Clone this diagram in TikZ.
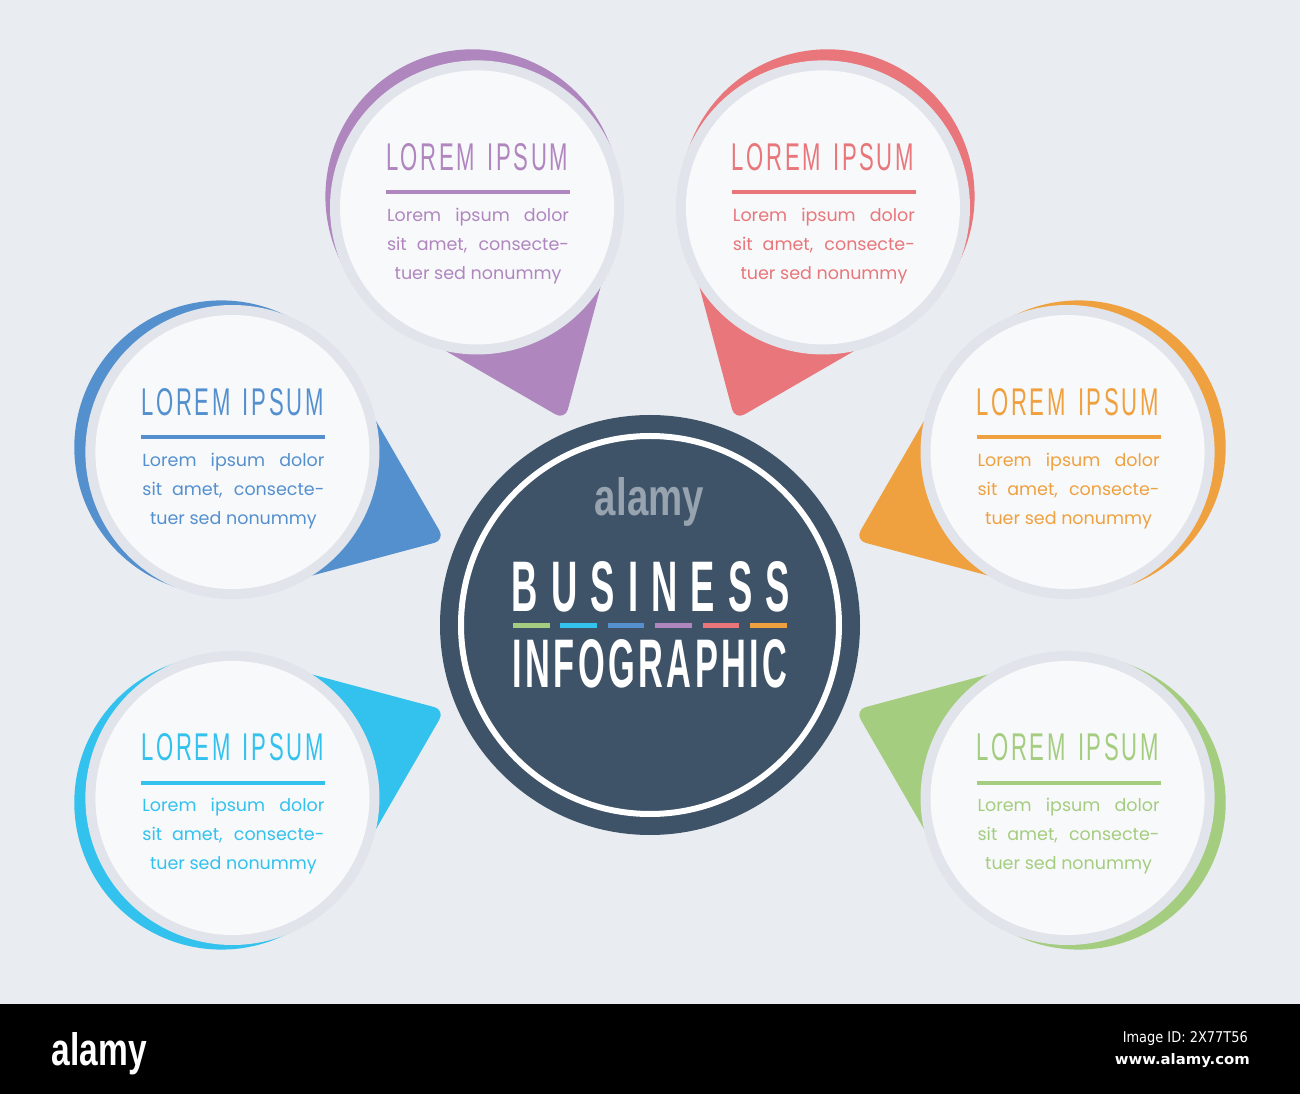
\documentclass[tikz,border=0pt]{standalone}
\usepackage{graphicx}
\usepackage{fontspec}
\setmainfont{Poppins}
\newfontfamily\headfont{Liberation Sans}
\newfontfamily\markfont{DejaVu Sans}
\usetikzlibrary{positioning}

\definecolor{bgray}{HTML}{E9ECF1}
\definecolor{ringgray}{HTML}{E1E4EA}
\definecolor{softwhite}{HTML}{F8F9FB}
\definecolor{slate}{HTML}{3E5368}
\definecolor{wmgray}{HTML}{97A3AF}
\definecolor{cOrange}{HTML}{EFA140}
\definecolor{cRed}{HTML}{E8767A}
\definecolor{cPurple}{HTML}{B086BF}
\definecolor{cBlue}{HTML}{5590CE}
\definecolor{cCyan}{HTML}{33C1EE}
\definecolor{cGreen}{HTML}{A5CD80}

\newcommand{\fitbox}[3]{\resizebox{#1}{#2}{#3}}
\newcommand{\lettergap}{\kern.36em}
\newcommand{\smallgap}{\kern.12em}
\newcommand{\tinygap}{\kern.1em}

\tikzset{
  headline/.style={anchor=base, inner sep=0pt, font=\headfont\bfseries},
  bubblehead/.style={anchor=base, inner sep=0pt, font=\headfont},
  bodyline/.style={anchor=base, inner sep=0pt, font=\fontsize{17.5}{20}\selectfont},
}

\begin{document}
\begin{tikzpicture}[x=1pt, y=1pt]

\useasboundingbox (-650,-469) rectangle (650,625);
\fill[bgray] (-650,-379) rectangle (650,625);
\fill[black] (-650,-469) rectangle (650,-379);

\foreach \a/\col/\n in {22.5/cOrange/or, 67.5/cRed/re, 112.5/cPurple/pu, 157.5/cBlue/bl, 202.5/cCyan/cy, 337.5/cGreen/gr}{
  \begin{scope}[shift={(\a:452)}]
    \begin{scope}[rotate=\a]
      \fill[\col] (12,0) circle[radius=147];
      \fill[\col, rounded corners=11pt] (-76,118) -- (-230,0) -- (-76,-118) -- cycle;
      \fill[ringgray] (0,0) circle[radius=147];
      \fill[softwhite] (0,0) circle[radius=137];
    \end{scope}
    \node[bubblehead, text=\col] (\n-head) at (0,37) {\fitbox{182pt}{27pt}{L\smallgap O\smallgap R\smallgap E\smallgap M\ \ I\smallgap P\smallgap S\smallgap U\smallgap M}};
    \draw[\col, line width=4pt] (-91,15) -- (93,15);
    \node[bodyline, text=\col] (\n-l1) at (1,-14) {\makebox[182pt][s]{Lorem ipsum dolor}};
    \node[bodyline, text=\col] (\n-l2) at (1,-43) {\makebox[182pt][s]{sit amet, consecte-}};
    \node[bodyline, text=\col] (\n-l3) at (1,-72) {tuer sed nonummy};
  \end{scope}
}

\fill[slate] (0,0) circle[radius=210];
\draw[white, line width=6pt] (0,0) circle[radius=189];
\node[headline, text=wmgray] (wm) at (-0.5,109) {\fitbox{109pt}{38pt}{alamy}};
\node[headline, text=white] (biz) at (1,13) {\fitbox{278pt}{50pt}{B\lettergap U\lettergap S\lettergap I\lettergap N\lettergap E\lettergap S\lettergap S}};
\node[headline, text=white] (info) at (0,-63) {\fitbox{275pt}{48pt}{I\tinygap N\tinygap F\tinygap O\tinygap G\tinygap R\tinygap A\tinygap P\tinygap H\tinygap I\tinygap C}};
\foreach \c [count=\i from 0] in {cGreen, cCyan, cBlue, cPurple, cRed, cOrange}
  \fill[\c] (-137+47.4*\i,-3.5) rectangle ++(36.5,5);

\node[headline, text=white] (logo) at (-550.5,-440) {\fitbox{95pt}{33pt}{alamy}};
\node[anchor=base east, inner sep=0pt, text=white, font=\markfont] (imgid) at (598,-417) {\fitbox{125pt}{11pt}{Image ID: 2X77T56}};
\node[anchor=base east, inner sep=0pt, text=white, font=\markfont\bfseries] (site) at (600,-439) {\fitbox{135pt}{11pt}{www.alamy.com}};

\end{tikzpicture}
\end{document}
